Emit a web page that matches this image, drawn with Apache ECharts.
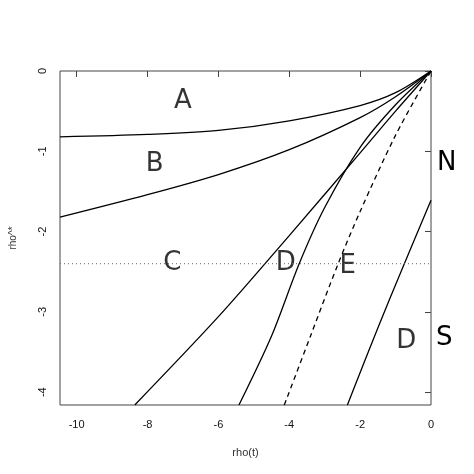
<!DOCTYPE html>
<html><head><meta charset="utf-8">
<script src="https://cdn.jsdelivr.net/npm/echarts@6/dist/echarts.min.js"></script>
<style>html,body{margin:0;padding:0;background:#fff}#c{width:474px;height:474px}</style>
</head><body><div id="c"></div>
<script>
var xTicks = [-10, -8, -6, -4, -2, 0];
var yTicks = [-4, -3, -2, -1, 0];
var curveAB = [[-10.47, -0.82], [-8, -0.79], [-6, -0.74], [-4, -0.62], [-2, -0.43], [-1, -0.27], [0, 0]];
var curveBC = [[-10.47, -1.82], [-8, -1.54], [-6, -1.29], [-4, -0.98], [-2, -0.58], [-1, -0.32], [0, 0]];
var curveCD = [[-8.36, -4.16], [-6, -3.06], [-4, -2.05], [-2, -1.02], [-1, -0.5], [0, 0]];
var curveDE = [[-5.42, -4.16], [-4.5, -3.3], [-3.72, -2.4], [-3, -1.7], [-2, -0.95], [-1, -0.42], [0, 0]];
var curveDash = [[-4.14, -4.16], [-3.4, -3.3], [-2.62, -2.4], [-2, -1.75], [-1, -0.8], [0, 0]];
var curveDS = [[-2.36, -4.16], [-1.5, -3.2], [-0.8, -2.45], [0, -1.61]];
var hLine = -2.4;
var regionLabels = [['A', -7.0, -0.38], ['B', -7.8, -1.16], ['C', -7.3, -2.4], ['D', -4.1, -2.4], ['E', -2.35, -2.43], ['D', -0.7, -3.36]];

var chart = echarts.init(document.getElementById('c'));
function line(d, type) {
    return {type: 'line', data: d, showSymbol: false, smooth: 0.3, silent: true,
        lineStyle: {color: '#000', width: 1.3, type: type || 'solid'}};
}
var option = {
    animation: false,
    grid: {left: 55, right: 43, top: 71, bottom: 69, show: true, borderColor: '#444', borderWidth: 1},
    xAxis: {
        type: 'value', min: -10.47, max: 0,
        name: 'rho(t)', nameLocation: 'middle', nameGap: 42,
        nameTextStyle: {fontFamily: 'Liberation Sans', fontSize: 11, color: '#333'},
        axisLine: {show: false}, splitLine: {show: false},
        axisTick: {customValues: xTicks, length: 6, lineStyle: {color: '#444'}},
        axisLabel: {customValues: xTicks, fontFamily: 'Liberation Sans', fontSize: 11, color: '#111', margin: 14}
    },
    yAxis: {
        type: 'value', min: -4.16, max: 0,
        name: 'rho^*', nameLocation: 'middle', nameGap: 42, nameRotate: 90,
        nameTextStyle: {fontFamily: 'Liberation Sans', fontSize: 10, color: '#333'},
        axisLine: {show: false}, splitLine: {show: false},
        axisTick: {customValues: yTicks, length: 6, lineStyle: {color: '#444'}},
        axisLabel: {customValues: yTicks, rotate: 90, fontFamily: 'Liberation Sans', fontSize: 11, color: '#111', margin: 12}
    },
    series: [
        line(curveAB), line(curveBC), line(curveCD), line(curveDE), line(curveDash, [5, 4]), line(curveDS),
        {type: 'line', data: [[-10.47, hLine], [0, hLine]], showSymbol: false, silent: true,
            lineStyle: {color: '#666', width: 1, type: [1, 3]}},
        {type: 'scatter', symbolSize: 0, silent: true,
            data: regionLabels.map(function (r) { return {value: [r[1], r[2]], name: r[0]}; }),
            label: {show: true, position: 'inside', formatter: '{b}', fontFamily: 'DejaVu Sans', fontSize: 26, color: '#000'}}
    ],
    graphic: [
        {type: 'text', left: 437, top: 150, style: {text: 'N', font: '26px DejaVu Sans', fill: '#000'}},
        {type: 'text', left: 436, top: 325, style: {text: 'S', font: '26px DejaVu Sans', fill: '#000'}}
    ]
};
chart.setOption(option);
</script>
</body></html>
